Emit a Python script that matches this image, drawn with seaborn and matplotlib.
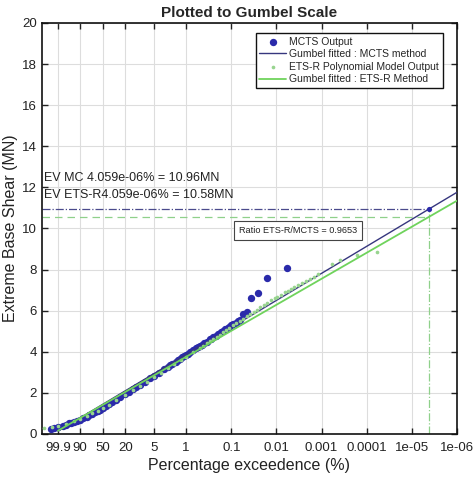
import numpy as np
import pandas as pd
import seaborn as sns
import matplotlib.pyplot as plt

# MCTS output (percentage exceedence, extreme base shear MN)
mcts_pct = [99.995, 99.98, 99.9, 99.5, 99, 98, 97, 95, 93, 90, 85, 80, 75, 70, 65,
            60, 55, 50, 45, 40, 35, 30, 25, 20, 17, 14, 12, 10, 8, 6, 5, 4, 3, 2.5,
            2.2, 2, 1.7, 1.5, 1.35, 1.2, 1.1, 1, 0.9, 0.8, 0.7, 0.6, 0.55, 0.5, 0.45,
            0.4, 0.35, 0.3, 0.28, 0.25, 0.22, 0.2, 0.17, 0.15, 0.135, 0.12, 0.11, 0.1,
            0.09, 0.08, 0.072, 0.065, 0.056, 0.045, 0.036, 0.026, 0.016, 0.0058]
mcts_shear = [0.24, 0.28, 0.34, 0.41, 0.46, 0.51, 0.55, 0.60, 0.64, 0.68, 0.76, 0.84,
              0.91, 0.98, 1.05, 1.12, 1.19, 1.26, 1.34, 1.44, 1.54, 1.65, 1.78, 1.93,
              2.04, 2.17, 2.27, 2.39, 2.53, 2.72, 2.84, 2.98, 3.16, 3.28, 3.36, 3.42,
              3.52, 3.60, 3.66, 3.74, 3.79, 3.85, 3.91, 3.99, 4.07, 4.17, 4.22, 4.28,
              4.35, 4.42, 4.50, 4.60, 4.64, 4.71, 4.79, 4.85, 4.95, 5.03, 5.09, 5.16,
              5.22, 5.28, 5.35, 5.42, 5.48, 5.55, 5.84, 5.95, 6.62, 6.85, 7.61, 8.08]

# ETS-R polynomial model output
ets_pct = [99.9999, 99.99, 99.9, 99, 95, 90, 80, 70, 60, 50, 40, 30, 20, 14, 10, 7,
           5, 3.5, 2.5, 1.8, 1.3, 1, 0.7, 0.5, 0.42, 0.35, 0.3, 0.25, 0.21, 0.18,
           0.15, 0.13, 0.11, 0.09, 0.077, 0.065, 0.055, 0.045, 0.038, 0.032, 0.027,
           0.023, 0.019, 0.016, 0.013, 0.011, 0.0095, 0.008, 0.0066, 0.0055, 0.0047,
           0.004, 0.0033, 0.0027, 0.0022, 0.0018, 0.0015, 0.0012, 0.0006, 0.00039,
           0.000166, 0.000059]
ets_shear = [0.30, 0.33, 0.38, 0.48, 0.62, 0.71, 0.86, 1.00, 1.13, 1.27, 1.43, 1.63,
             1.89, 2.12, 2.33, 2.55, 2.76, 2.98, 3.19, 3.40, 3.60, 3.76, 3.98, 4.19,
             4.30, 4.41, 4.51, 4.63, 4.74, 4.84, 4.94, 5.05, 5.15, 5.28, 5.38, 5.49,
             5.60, 5.73, 5.84, 5.95, 6.05, 6.16, 6.28, 6.39, 6.50, 6.60, 6.69, 6.78,
             6.89, 6.98, 7.07, 7.16, 7.26, 7.36, 7.46, 7.56, 7.66, 7.77, 8.27, 8.47,
             8.71, 8.86]

# Gumbel fitted lines (end points)
fit_pct = [99.9, 1e-6]
mcts_fit = [0.14, 11.76]
ets_fit = [0.16, 11.35]

# extreme values
ev_pct = 4.059e-6
ev_mcts = 10.96
ev_ets = 10.58
ratio = 0.9653

x_ticks = [99.9, 90, 50, 20, 5, 1, 0.1, 0.01, 0.001, 0.0001, 1e-5, 1e-6]
x_tick_labels = ['99.9', '90', '50', '20', '5', '1', '0.1', '0.01', '0.001',
                 '0.0001', '1e-05', '1e-06']
y_ticks = list(range(0, 21, 2))
x_left = 99.999984


def gumbel_fwd(p):
    q = np.clip(np.asarray(p, dtype=float) / 100.0, 1e-300, 1 - 1e-16)
    with np.errstate(all='ignore'):
        return -np.log(-np.log1p(-q))


def gumbel_inv(x):
    x = np.asarray(x, dtype=float)
    with np.errstate(all='ignore'):
        return -np.expm1(-np.exp(-x)) * 100.0


sns.set_theme(style='whitegrid')
plt.rcParams['font.family'] = ['Liberation Sans', 'DejaVu Sans']

fig, ax = plt.subplots(figsize=(4.74, 4.79), dpi=100)
fig.subplots_adjust(left=0.0886, right=0.964, top=0.952, bottom=0.094)
ax.set_xscale('function', functions=(gumbel_fwd, gumbel_inv))

mcts = pd.DataFrame({'pct': mcts_pct, 'shear': mcts_shear})
ets = pd.DataFrame({'pct': ets_pct, 'shear': ets_shear})

sns.scatterplot(data=mcts, x='pct', y='shear', ax=ax, color='#2a2aaa', s=28,
                linewidth=0, label='MCTS Output', zorder=3)
sns.lineplot(x=fit_pct, y=mcts_fit, ax=ax, color='#36367e', lw=1.0, sort=False,
             label='Gumbel fitted : MCTS method', zorder=4)
sns.scatterplot(data=ets, x='pct', y='shear', ax=ax, color='#98d48f', s=7,
                linewidth=0, label='ETS-R Polynomial Model Output', zorder=5)
sns.lineplot(x=fit_pct, y=ets_fit, ax=ax, color='#6fd35c', lw=1.3, sort=False,
             label='Gumbel fitted : ETS-R Method', zorder=6)

# extreme value markers
ax.scatter([ev_pct], [ev_mcts], color='#2a2aaa', s=14, linewidth=0, zorder=7)
ax.plot([x_left, ev_pct], [ev_mcts, ev_mcts], color='#4a4a8c', lw=0.9,
        ls='-.', zorder=2)
ax.plot([x_left, ev_pct], [ev_ets, ev_ets], color='#8fd08a', lw=0.9,
        ls=(0, (6, 4)), zorder=2)
ax.plot([ev_pct, ev_pct], [0, ev_mcts], color='#8fd08a', lw=0.9,
        ls='-.', zorder=2)

ax.text(gumbel_inv(-2.65), 12.45, 'EV MC 4.059e-06% = {:.2f}MN'.format(ev_mcts),
        fontsize=9, va='center', color='#222222')
ax.text(gumbel_inv(-2.65), 11.62, 'EV ETS-R4.059e-06% = {:.2f}MN'.format(ev_ets),
        fontsize=9, va='center', color='#222222')
ax.text(gumbel_inv(7.3), 9.88, 'Ratio ETS-R/MCTS = {:.4f}'.format(ratio),
        fontsize=6.6, ha='left', va='center', color='#222222',
        bbox=dict(boxstyle='square,pad=0.55', fc='white', ec='#444444', lw=0.8))

# decreasing transform: give the limits in this order so 99.9 sits on the left
ax.set_xlim(1e-6, x_left)
ax.set_ylim(0, 20)
ax.set_xticks(x_ticks)
ax.set_xticklabels(x_tick_labels)
ax.set_yticks(y_ticks)
ax.xaxis.set_minor_locator(plt.NullLocator())
ax.tick_params(axis='both', direction='in', length=4, width=1, colors='#222222',
               labelsize=9.5, top=True, right=True, bottom=True, left=True)
ax.tick_params(axis='x', pad=6)
ax.grid(True, color='#dddddd', lw=0.8)
for spine in ax.spines.values():
    spine.set_color('#111111')
    spine.set_linewidth(1.2)

ax.set_title('Plotted to Gumbel Scale', fontsize=11, fontweight='bold', pad=4)
ax.set_xlabel('Percentage exceedence (%)', fontsize=11.5, color='#222222', labelpad=3)
ax.set_ylabel('Extreme Base Shear (MN)', fontsize=11.5, color='#222222', labelpad=3)

leg = ax.legend(loc='upper right', bbox_to_anchor=(0.966, 0.976), borderaxespad=0,
                fontsize=7.5, frameon=True, fancybox=False, edgecolor='#111111',
                framealpha=1, handlelength=2.6, handletextpad=0.3,
                labelspacing=0.25, borderpad=0.35)
leg.get_frame().set_linewidth(1.0)

fig.savefig('out.png', dpi=100)
